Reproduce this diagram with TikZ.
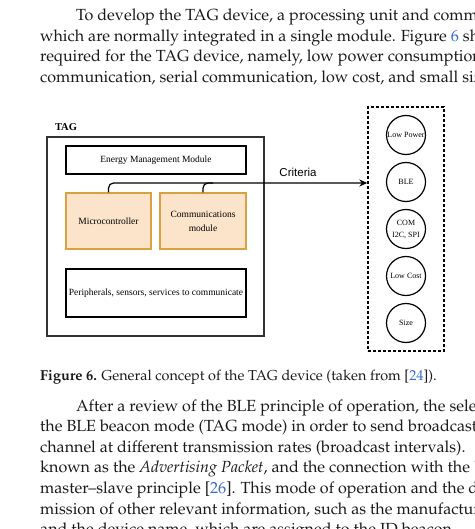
\documentclass[tikz,border=0pt]{standalone}
\usepackage[T1]{fontenc}
\usepackage{fontspec}
\usetikzlibrary{arrows.meta}
\newfontfamily\diaserif{Liberation Serif}
\newfontfamily\diasans{Liberation Sans}
\newcommand\palfont{\fontencoding{T1}\fontfamily{ppl}\selectfont}
\definecolor{linkblue}{HTML}{3A6CC9}
\definecolor{orfill}{HTML}{FCE4CB}
\definecolor{ordraw}{HTML}{D9A23E}
\definecolor{bodytext}{HTML}{1A1A1A}
\tikzset{
  bodyline/.style={anchor=base west, inner sep=0pt, text=bodytext, font=\palfont\fontsize{16.1}{20.6}\selectfont},
  capline/.style={anchor=base west, inner sep=0pt, text=bodytext, font=\palfont\fontsize{14.4}{18}\selectfont},
  plainbox/.style={draw=black, line width=1.1pt, fill=white, inner sep=0pt, align=center, font=\diaserif\fontsize{9.5}{13.5}\selectfont},
  orbox/.style={draw=ordraw, line width=1.1pt, fill=orfill, inner sep=0pt, align=center, font=\diaserif\fontsize{9.5}{14}\selectfont},
  crit/.style={draw=black, line width=1.2pt, circle, minimum size=39pt, inner sep=0pt, align=center, font=\diaserif\fontsize{8}{12}\selectfont},
  link/.style={draw=black, line width=1.2pt, rounded corners=5pt}
}
\begin{document}
\begin{tikzpicture}[x=1pt,y=-1pt]
\useasboundingbox (0,0) rectangle (474,529);
\clip (0,0) rectangle (474,529);
\fill[white] (0,0) rectangle (474,529);
% body text above
\node[bodyline] (t1) at (76,20.5) {To develop the TAG device, a processing unit and communication};
\node[bodyline] (t2) at (40,41.1) {which are normally integrated in a single module. Figure \textcolor{linkblue}{6} shows};
\node[bodyline] (t3) at (40,61.7) {required for the TAG device, namely, low power consumption, BLE};
\node[bodyline] (t4) at (40,82.3) {communication, serial communication, low cost, and small size.};
% diagram
\node[font=\diaserif\bfseries\fontsize{10.5}{12}\selectfont, inner sep=0pt] (tag) at (66,127) {TAG};
\draw[draw=black!80, line width=1.3pt] (47,137) rectangle (264,336);
\node[plainbox, minimum width=180pt, minimum height=28pt] (energy) at (156,160) {Energy Management Module};
\node[orbox, minimum width=85pt, minimum height=56pt] (micro) at (108.5,221) {Microcontroller};
\node[orbox, minimum width=86pt, minimum height=56pt] (comms) at (203,221) {Communications\\module};
\node[plainbox, minimum width=180pt, minimum height=48pt] (periph) at (156,293) {Peripherals, sensors, services to communicate};
% dashed criteria box
\node[draw=black, line width=1.4pt, dash pattern=on 3pt off 2pt, minimum width=76pt, minimum height=244pt, inner sep=0pt] (cbox) at (406,229) {};
\coordinate (tip) at (cbox.west |- 0,183);
\node[crit] (c1) at (406,135) {Low Power};
\node[crit] (c2) at (406,182) {BLE};
\node[crit] (c3) at (406,229) {COM\\I2C, SPI};
\node[crit] (c4) at (406,276) {Low Cost};
\node[crit] (c5) at (406,323) {Size};
\draw[link, -{Stealth[length=8pt,width=7pt]}] (micro.north) |- (tip);
\draw[link] (comms.north) |- ([xshift=10pt]comms.north |- tip);
\node[font=\diasans\fontsize{11.5}{13}\selectfont, inner sep=0pt] (critlabel) at (298,172) {Criteria};
% caption
\node[capline] (cap) at (40,380) {{\bfseries Figure 6.} General concept of the TAG device (taken from [\textcolor{linkblue}{24}]).};
% body text below
\node[bodyline] (b1) at (76,411) {After a review of the BLE principle of operation, the selected};
\node[bodyline] (b2) at (40,431.6) {the BLE beacon mode (TAG mode) in order to send broadcast};
\node[bodyline] (b3) at (40,452.2) {channel at different transmission rates (broadcast intervals).};
\node[bodyline] (b4) at (40,472.8) {known as the \textit{Advertising Packet}, and the connection with the BLE};
\node[bodyline] (b5) at (40,493.4) {master--slave principle [\textcolor{linkblue}{26}]. This mode of operation and the data};
\node[bodyline] (b6) at (40,514) {mission of other relevant information, such as the manufacturer};
\node[bodyline] (b7) at (40,534.6) {and the device name, which are assigned to the ID beacon};
\end{tikzpicture}
\end{document}
